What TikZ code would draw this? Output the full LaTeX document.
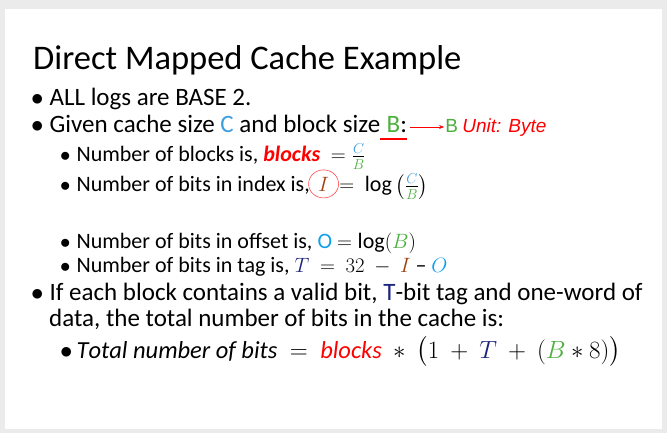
\documentclass[tikz,border=0pt]{standalone}
\usepackage{fontspec}
\usepackage{amsmath}
\setmainfont{Carlito}
\newfontfamily\arialf{Liberation Sans}
\usetikzlibrary{arrows.meta}
\definecolor{cB}{HTML}{3E9FE0}
\definecolor{gB}{HTML}{4CAF3E}
\definecolor{bI}{HTML}{A0410D}
\definecolor{dT}{HTML}{1A237E}
\definecolor{cO}{HTML}{10A0E8}
\begin{document}
\begin{tikzpicture}[x=1pt,y=-1pt,
  txt/.style={anchor=base west,inner sep=0pt,font=\fontsize{25}{30}\selectfont},
  sub/.style={anchor=base west,inner sep=0pt,font=\fontsize{22}{26}\selectfont}]
\fill[black!8] (0,0) rectangle (667,433);
\fill[white] (5,9) rectangle (662,429);
\useasboundingbox (0,0) rectangle (667,433);
\node[anchor=base west,inner sep=0pt,font=\fontsize{34.5}{40}\selectfont] (title) at (33,70) {Direct Mapped Cache Example};
\node[txt] (l1) at (31,106) {$\bullet$\hspace{6pt}ALL logs are BASE 2.};
\node[txt] (l2) at (31,133) {$\bullet$\hspace{6pt}Given cache size \textcolor{cB}{C} and block size};
\node[txt] (bcol) at ([xshift=6pt]l2.base east) {\textcolor{gB}{B}:};
\draw[red,line width=1.8pt] ([xshift=-6pt,yshift=-6pt]bcol.base west) -- ([yshift=-6pt]bcol.base east);
\node[anchor=base west,inner sep=0pt,font=\fontsize{19}{22}\selectfont] (bu) at ([xshift=38pt]bcol.base east) {\textcolor{gB}{\arialf B} \textcolor{red}{\arialf\itshape Unit: Byte}};
\draw[red,-{Stealth[length=5pt]}] ([xshift=3pt,yshift=6pt]bcol.base east) -- ([xshift=-1pt,yshift=6pt]bu.base west);
\node[sub] (s1) at (60,162) {$\bullet$\hspace{6pt}Number of blocks is, $\textcolor{red}{\boldsymbol{\mathit{blocks}}}\ = \frac{\textcolor{cB}{C}}{\textcolor{gB}{B}}$};
\node[sub] (s2) at (60,192) {$\bullet$\hspace{6pt}Number of bits in index is,};
\node[sub] (iI) at ([xshift=8pt]s2.base east) {$\textcolor{bI}{I}$};
\node[sub] (s2b) at ([xshift=10pt]iI.base east) {$=\ \log\left(\frac{\textcolor{cB}{C}}{\textcolor{gB}{B}}\right)$};
\draw[red!70,line width=0.6pt] ([yshift=1pt]iI.center) ellipse [x radius=15pt,y radius=14pt];
\node[sub] (s3) at (60,248) {$\bullet$\hspace{6pt}Number of bits in offset is, \textcolor{cO}{O} $=\log(\textcolor{gB}{B})$};
\node[sub] (s4) at (60,272) {$\bullet$\hspace{6pt}Number of bits in tag is, $\textcolor{dT}{T}\ =\ 32\ -\ \textcolor{bI}{I}$ -- $\textcolor{cO}{O}$};
\node[txt] (l3) at (31,300) {$\bullet$\hspace{6pt}If each block contains a valid bit, \textcolor{dT}{T}-bit tag and one-word of};
\node[txt] (l4) at (49,326) {data, the total number of bits in the cache is:};
\node[sub,font=\fontsize{24.5}{28}\selectfont] (s5) at (60,358) {$\bullet$\hspace{4pt}$\mathit{Total\ number\ of\ bits}\ =\ \textcolor{red}{\mathit{blocks}}\ *\ \bigl(1\ +\ \textcolor{dT}{T}\ +\ (\textcolor{gB}{B}*8)\bigr)$};
\end{tikzpicture}
\end{document}
